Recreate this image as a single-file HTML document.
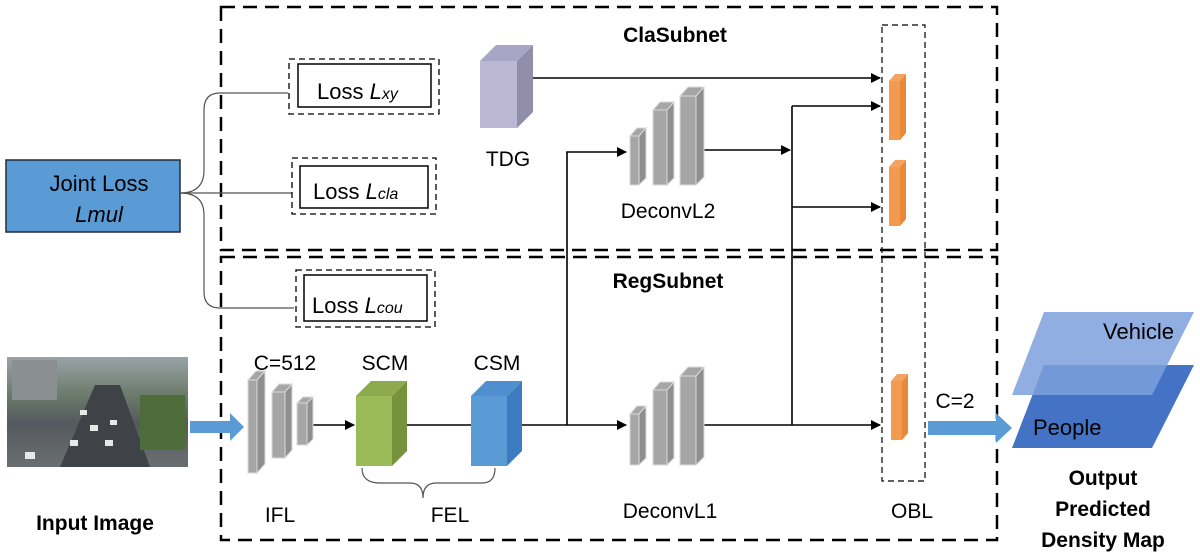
<!DOCTYPE html>
<html><head><meta charset="utf-8"><style>body{margin:0;background:#fff}svg{display:block}text{font-family:"Liberation Sans",Arial,sans-serif}</style></head><body>
<svg width="1200" height="558" viewBox="0 0 1200 558" xmlns="http://www.w3.org/2000/svg">
<defs>
<marker id="ar" markerWidth="10" markerHeight="10" refX="9" refY="5" orient="auto" markerUnits="userSpaceOnUse"><path d="M0,0 L10,5 L0,10 z" fill="#000"/></marker>
<linearGradient id="img" x1="0" y1="0" x2="0" y2="1"><stop offset="0" stop-color="#9aa3a8"/><stop offset="0.35" stop-color="#6b7a6a"/><stop offset="0.6" stop-color="#555a5e"/><stop offset="1" stop-color="#6a6e70"/></linearGradient>
</defs>
<g fill="none" stroke="#000" stroke-width="2.5" stroke-dasharray="14,8">
<rect x="221" y="7" width="776" height="243"/>
<rect x="221" y="257" width="776" height="283"/>
</g>
<text x="675" y="42" font-size="21" font-weight="bold" text-anchor="middle">ClaSubnet</text>
<text x="668" y="288" font-size="21" font-weight="bold" text-anchor="middle">RegSubnet</text>
<!-- joint loss -->
<rect x="6" y="160" width="174" height="72" fill="#5b9bd5" stroke="#1f2d3d" stroke-width="1.5"/>
<text x="99" y="191" font-size="22" text-anchor="middle">Joint Loss</text>
<text x="99" y="222" font-size="22" font-style="italic" text-anchor="middle">Lmul</text>
<g fill="none" stroke="#555" stroke-width="1.2">
<path d="M180,193 Q204,193 204,170 L204,110 Q204,93 220,93 L288,93"/>
<path d="M180,193 L292,193"/>
<path d="M180,193 Q204,193 204,215 L204,292 Q204,308 220,308 L294,308"/>
</g>
<g fill="none" stroke="#000" stroke-width="1.3" stroke-dasharray="6,4">
<rect x="289" y="59" width="150" height="55"/>
<rect x="292" y="158" width="144" height="56"/>
<rect x="296" y="270" width="139" height="57"/>
</g>
<g fill="none" stroke="#000" stroke-width="1.5">
<rect x="298" y="64" width="133" height="43"/>
<rect x="300" y="166" width="128" height="42"/>
<rect x="304" y="275" width="123" height="46"/>
</g>
<text x="317" y="99" font-size="22">Loss <tspan font-style="italic">L</tspan><tspan font-style="italic" font-size="16">xy</tspan></text>
<text x="313" y="199" font-size="22">Loss <tspan font-style="italic">L</tspan><tspan font-style="italic" font-size="16">cla</tspan></text>
<text x="312" y="313" font-size="22">Loss <tspan font-style="italic">L</tspan><tspan font-style="italic" font-size="16">cou</tspan></text>
<!-- TDG -->
<polygon points="480,61 496,45 533,45 517,61" fill="#a9a5c4"/>
<polygon points="517,61 533,45 533,112 517,128" fill="#918eab"/>
<rect x="480" y="61" width="37" height="67" fill="#bcb8d3"/>
<text x="508" y="166" font-size="21" text-anchor="middle">TDG</text>
<!-- lines -->
<g stroke="#000" stroke-width="1.6" fill="none">
<line x1="533" y1="78" x2="880" y2="78" marker-end="url(#ar)"/>
<polyline points="567,425 567,152 626,152" marker-end="url(#ar)"/>
<line x1="704" y1="150" x2="790" y2="150" marker-end="url(#ar)"/>
<line x1="792" y1="106" x2="792" y2="425"/>
<line x1="792" y1="106" x2="880" y2="106" marker-end="url(#ar)"/>
<line x1="792" y1="207" x2="880" y2="207" marker-end="url(#ar)"/>
<line x1="312" y1="425" x2="354" y2="425" marker-end="url(#ar)"/>
<line x1="392" y1="425" x2="471" y2="425"/>
<line x1="507" y1="425" x2="626" y2="425" marker-end="url(#ar)"/>
<line x1="704" y1="425" x2="880" y2="425" marker-end="url(#ar)"/>
</g>
<!-- gray deconv blocks -->
<g fill="#a6a6a6" stroke="#d9d9d9" stroke-width="1">
<polygon points="630,136 637,128 646,128 639,136"/><rect x="630" y="136" width="9" height="49"/><polygon points="639,136 646,128 646,178 639,185" fill="#8f8f8f"/>
<polygon points="653,110 660,102 674,102 667,110"/><rect x="653" y="110" width="14" height="75"/><polygon points="667,110 674,102 674,178 667,185" fill="#8f8f8f"/>
<polygon points="680,96 688,87 704,87 696,96"/><rect x="680" y="96" width="16" height="89"/><polygon points="696,96 704,87 704,177 696,185" fill="#8f8f8f"/>
<polygon points="630,414 637,406 646,406 639,414"/><rect x="630" y="414" width="9" height="51"/><polygon points="639,414 646,406 646,458 639,465" fill="#8f8f8f"/>
<polygon points="653,390 660,382 674,382 667,390"/><rect x="653" y="390" width="14" height="75"/><polygon points="667,390 674,382 674,458 667,465" fill="#8f8f8f"/>
<polygon points="680,376 688,367 704,367 696,376"/><rect x="680" y="376" width="16" height="89"/><polygon points="696,376 704,367 704,457 696,465" fill="#8f8f8f"/>
<polygon points="248,380 256,371 265,371 257,380"/><rect x="248" y="380" width="9" height="93"/><polygon points="257,380 265,371 265,464 257,473" fill="#8f8f8f"/>
<polygon points="272,392 279,384 292,384 285,392"/><rect x="272" y="392" width="13" height="66"/><polygon points="285,392 292,384 292,450 285,458" fill="#8f8f8f"/>
<polygon points="297,403 303,397 313,397 307,403"/><rect x="297" y="403" width="10" height="42"/><polygon points="307,403 313,397 313,439 307,445" fill="#8f8f8f"/>
</g>
<text x="668" y="218" font-size="21" text-anchor="middle">DeconvL2</text>
<text x="670" y="518" font-size="21" text-anchor="middle">DeconvL1</text>
<!-- SCM / CSM -->
<polygon points="356,396 371,381 407,381 392,396" fill="#8cab4e"/>
<polygon points="392,396 407,381 407,451 392,466" fill="#76923c"/>
<rect x="356" y="396" width="36" height="70" fill="#9bbb59"/>
<polygon points="471,396 486,381 522,381 507,396" fill="#4f8fcf"/>
<polygon points="507,396 522,381 522,451 507,466" fill="#3d7cc0"/>
<rect x="471" y="396" width="36" height="70" fill="#5b9bd5"/>
<text x="285" y="370" font-size="21" text-anchor="middle">C=512</text>
<text x="385" y="370" font-size="21" text-anchor="middle">SCM</text>
<text x="497" y="370" font-size="21" text-anchor="middle">CSM</text>
<path d="M362,468 Q362,483 380,483 L410,483 Q423,483 423,498 Q423,483 436,483 L482,483 Q495,483 495,468" fill="none" stroke="#555" stroke-width="1.2"/>
<text x="280" y="522" font-size="21" text-anchor="middle">IFL</text>
<text x="450" y="522" font-size="21" text-anchor="middle">FEL</text>
<!-- input image -->
<rect x="7" y="357" width="181" height="110" fill="url(#img)"/>
<polygon points="60,467 95,385 120,385 150,467" fill="#3f4347"/>
<rect x="140" y="395" width="45" height="55" fill="#4e6b3a"/>
<rect x="12" y="360" width="45" height="40" fill="#8a8f92"/>
<g fill="#e8e8e8"><rect x="70" y="440" width="8" height="6"/><rect x="90" y="425" width="8" height="6"/><rect x="105" y="440" width="8" height="6"/><rect x="80" y="410" width="7" height="5"/><rect x="110" y="420" width="7" height="5"/><rect x="25" y="452" width="10" height="7"/></g>
<text x="95" y="530" font-size="21" font-weight="bold" text-anchor="middle">Input Image</text>
<polygon points="190,421 230,421 230,413 244,427 230,441 230,433 190,433" fill="#5b9bd5"/>
<!-- OBL -->
<rect x="882" y="25" width="43" height="456" fill="none" stroke="#000" stroke-width="1.2" stroke-dasharray="6,4"/>
<g>
<polygon points="889,81 895,74 906,74 900,81" fill="#f4a460"/><rect x="889" y="81" width="11" height="59" fill="#f29b4f"/><polygon points="900,81 906,74 906,133 900,140" fill="#e8893a"/>
<polygon points="889,167 895,160 906,160 900,167" fill="#f4a460"/><rect x="889" y="167" width="11" height="59" fill="#f29b4f"/><polygon points="900,167 906,160 906,219 900,226" fill="#e8893a"/>
<polygon points="891,381 897,374 908,374 902,381" fill="#f4a460"/><rect x="891" y="381" width="11" height="59" fill="#f29b4f"/><polygon points="902,381 908,374 908,433 902,440" fill="#e8893a"/>
</g>
<text x="912" y="518" font-size="21" text-anchor="middle">OBL</text>
<text x="955" y="408" font-size="21" text-anchor="middle">C=2</text>
<polygon points="928,421 996,421 996,413 1012,428 996,443 996,435 928,435" fill="#5b9bd5"/>
<!-- density -->
<polygon points="1044,365 1194,365 1152,448 1012,448" fill="#4472c4"/>
<polygon points="1044,312 1194,312 1152,395 1012,395" fill="#7da0dc" fill-opacity="0.85"/>
<text x="1174" y="339" font-size="22" text-anchor="end">Vehicle</text>
<text x="1033" y="435" font-size="22">People</text>
<text x="1103" y="485" font-size="21" font-weight="bold" text-anchor="middle">Output</text>
<text x="1103" y="516" font-size="21" font-weight="bold" text-anchor="middle">Predicted</text>
<text x="1103" y="547" font-size="21" font-weight="bold" text-anchor="middle">Density Map</text>
</svg>
</body></html>
